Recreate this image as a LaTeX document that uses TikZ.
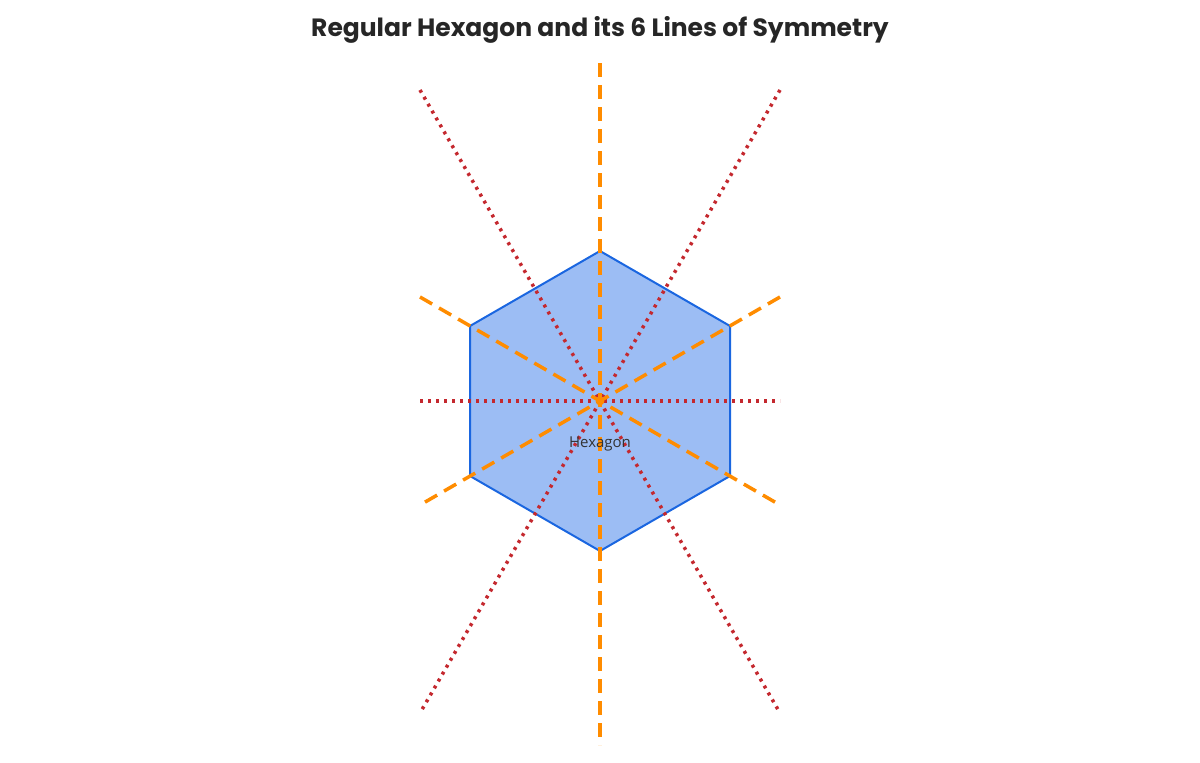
\documentclass[tikz,border=0pt]{standalone}
\usepackage{fontspec}
\setmainfont{Poppins}
\newfontfamily\lab{Open Sans}
\definecolor{hexfill}{HTML}{9CBDF4}
\definecolor{hexline}{HTML}{1A66E0}
\definecolor{orng}{HTML}{FF8C00}
\definecolor{rd}{HTML}{C4282E}
\begin{document}
\begin{tikzpicture}[x=1pt,y=-1pt,
  orline/.style={orng,line width=3.5pt,dash pattern=on 14pt off 8pt},
  rdline/.style={rd,line width=3.5pt,dash pattern=on 3pt off 5pt}]
\useasboundingbox (0,0) rectangle (1200,763);
\coordinate (c) at (600,401);
\draw[hexline,fill=hexfill,line width=2pt,line join=round]
  (600,251) -- (730,326) -- (730,476) -- (600,551) -- (470,476) -- (470,326) -- cycle;
\coordinate (v1) at (600,63); \coordinate (v2) at (600,745);
\coordinate (a1) at (780,297); \coordinate (a2) at (420,505);
\coordinate (b1) at (420,297); \coordinate (b2) at (780,505);
\coordinate (h1) at (420,401); \coordinate (h2) at (780,401);
\coordinate (p1) at (780,90); \coordinate (p2) at (420,713);
\coordinate (q1) at (420,90); \coordinate (q2) at (780,713);
\draw[rdline] (h1) -- (h2);
\draw[rdline] (p1) -- (p2);
\draw[rdline] (q1) -- (q2);
\draw[orline] (v1) -- (v2);
\draw[orline] (a1) -- (a2);
\draw[orline] (b1) -- (b2);
\node[font=\lab\fontsize{15}{18}\selectfont,text=black!80] (lbl) at (600,444) {Hexagon};
\node[font=\fontsize{25}{30}\selectfont\bfseries,text=black!85] (title) at (600,30) {Regular Hexagon and its 6 Lines of Symmetry};
\end{tikzpicture}
\end{document}
